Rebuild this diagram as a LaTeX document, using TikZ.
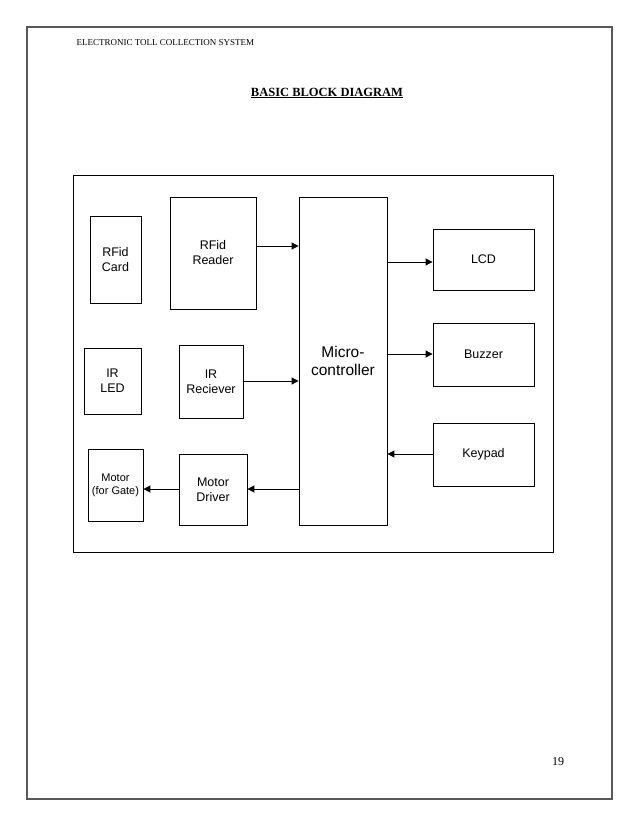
\documentclass[tikz,border=0pt]{standalone}
\usepackage{fontspec}
\setmainfont{Liberation Serif}
\newfontfamily\arialf{Liberation Sans}
\usetikzlibrary{arrows.meta}
\begin{document}
\begin{tikzpicture}[x=1pt,y=-1pt,
  blk/.style={draw,line width=0.9pt,inner sep=0pt,font=\arialf\fontsize{12.5}{15}\selectfont,align=center},
  arr/.style={-{Triangle[length=7pt,width=7pt]},line width=1pt}]
\useasboundingbox (0,0) rectangle (638,826);
\fill[white] (0,0) rectangle (638,826);
\draw[gray!70!black,line width=2pt] (27,27) rectangle (612,799);
\node[anchor=west,font=\fontsize{9}{10}\selectfont] (hdr) at (73,43) {ELECTRONIC TOLL COLLECTION SYSTEM};
\node[font=\bfseries\fontsize{12.5}{14}\selectfont] (ttl) at (327,93) {\underline{BASIC BLOCK DIAGRAM}};
\node[font=\fontsize{12}{14}\selectfont] (pg) at (558,762) {19};
\draw[line width=1pt] (73,176) rectangle (553,552);
\node[blk,minimum width=51pt,minimum height=87pt] (card) at (115.5,259.5) {RFid\\Card};
\node[blk,minimum width=86pt,minimum height=112pt] (reader) at (213,253) {RFid\\Reader};
\node[blk,minimum width=88pt,minimum height=328pt,font=\arialf\fontsize{15.5}{18}\selectfont] (mc) at (343,361) {Micro-\\controller};
\node[blk,minimum width=101pt,minimum height=61pt] (lcd) at (483.5,259.5) {LCD};
\node[blk,minimum width=101pt,minimum height=63pt] (buz) at (483.5,354.5) {Buzzer};
\node[blk,minimum width=101pt,minimum height=63pt] (key) at (483.5,454.5) {Keypad};
\node[blk,minimum width=57pt,minimum height=66pt] (irled) at (112.5,381) {IR\\LED};
\node[blk,minimum width=64pt,minimum height=73pt] (irrx) at (211,381.5) {IR\\Reciever};
\node[blk,minimum width=55pt,minimum height=72pt,font=\arialf\fontsize{11}{13}\selectfont] (motor) at (115.5,485) {Motor\\(for Gate)};
\node[blk,minimum width=68pt,minimum height=71pt] (drv) at (213,489.5) {Motor\\Driver};
\draw[arr] (reader.east|-0,246) -- (mc.west|-0,246);
\draw[arr] (irrx.east|-0,381) -- (mc.west|-0,381);
\draw[arr] (mc.west|-0,489) -- (drv.east|-0,489);
\draw[arr] (drv.west|-0,489) -- (motor.east|-0,489);
\draw[arr] (mc.east|-0,262) -- (lcd.west|-0,262);
\draw[arr] (mc.east|-0,354) -- (buz.west|-0,354);
\draw[arr] (key.west|-0,454) -- (mc.east|-0,454);
\end{tikzpicture}
\end{document}
